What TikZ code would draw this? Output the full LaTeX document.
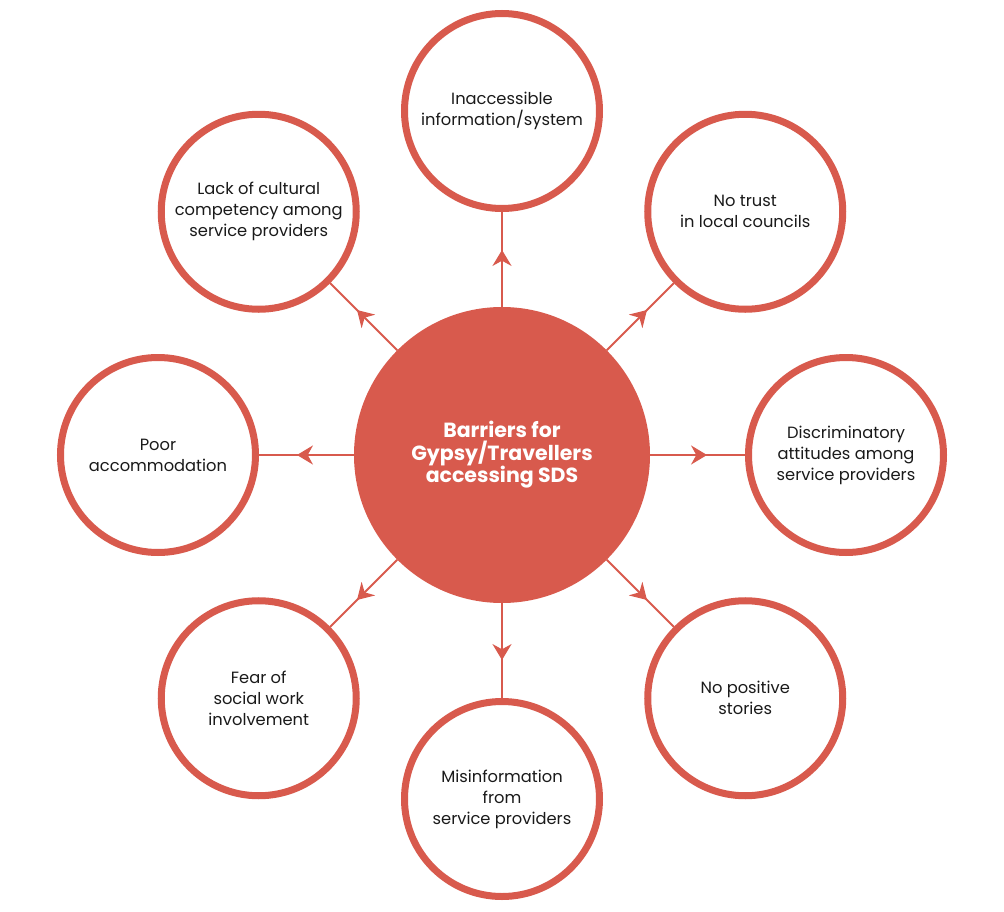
\documentclass[tikz,border=0pt]{standalone}
\usepackage{fontspec}
\setmainfont{Poppins}
\usepackage{tikz}
\usetikzlibrary{arrows.meta,calc,decorations.markings}
\usepackage{xcolor}
\definecolor{brick}{HTML}{D85A4D}
\definecolor{ink}{HTML}{1A1A1A}

\begin{document}
\begin{tikzpicture}[x=1pt, y=1pt,
    hub/.style={circle, fill=brick, minimum size=296pt, inner sep=0pt,
      text=white, font=\fontsize{20.5}{22.5}\selectfont\bfseries, align=center},
    barrier/.style={circle, draw=brick, line width=7pt, fill=white, minimum size=195pt,
      inner sep=0pt, text=ink, font=\fontsize{16.3}{21}\selectfont, align=center},
    link/.style={brick, line width=2pt,
      decoration={markings, mark=at position 0.6 with {\arrow{Stealth[length=16pt,width=19pt]}}},
      postaction=decorate}]
    \useasboundingbox (-502,-456) rectangle (502,455);
    \node[hub] (hub) at (0,0) {Barriers for\\Gypsy/Travellers\\accessing SDS};
    % ring of barriers, counter-clockwise from the top
    \foreach \ang/\name/\txt in {
        90/info/{Inaccessible\\information/system},
        45/trust/{No trust\\in local councils},
        0/discrim/{Discriminatory\\attitudes among\\service providers},
        -45/stories/{No positive\\stories},
        -90/misinfo/{Misinformation\\from\\service providers},
        -135/fear/{Fear of\\social work\\involvement},
        180/accom/{Poor\\accommodation},
        135/culture/{Lack of cultural\\competency among\\service providers}} {
      \node[barrier] (\name) at (\ang:344) {\txt};
      \draw[link] (hub) -- (\name);
    }
  \end{tikzpicture}
\end{document}
